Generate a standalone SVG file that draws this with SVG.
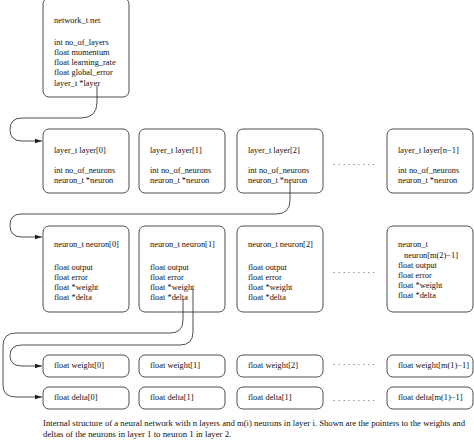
<svg xmlns="http://www.w3.org/2000/svg" width="474" height="443" viewBox="0 0 474 443">
<style>
.b{fill:#fff;stroke:#222;stroke-width:0.8}
.t{font-family:"Liberation Serif",serif;font-size:8.4px;fill:#111}
.cap{font-family:"Liberation Serif",serif;font-size:8.8px;fill:#111}
.c{fill:none;stroke:#222;stroke-width:0.8}
.d{font-family:"Liberation Serif",serif;font-size:9px;fill:#111;letter-spacing:2.7px}
</style>
<defs>
<marker id="ah" markerWidth="8" markerHeight="6" refX="7" refY="3" orient="auto" markerUnits="userSpaceOnUse">
<path d="M0,0.8 L7,3 L0,5.2 Z" fill="#222"/>
</marker>
</defs>
<g id="net">
<rect class="b" x="43" y="-2" width="86" height="99" rx="6"/>
<text class="t" x="54" y="23">network_t net</text>
<text class="t" x="54" y="45">int no_of_layers</text>
<text class="t" x="54" y="55">float momentum</text>
<text class="t" x="54" y="65">float learning_rate</text>
<text class="t" x="54" y="75">float global_error</text>
<text class="t" x="54" y="86">layer_t *layer</text>
</g>
<g id="layer0"><rect class="b" x="43" y="129" width="86" height="64" rx="6"/>
<text class="t" x="54" y="153">layer_t layer[0]</text><text class="t" x="54" y="173">int no_of_neurons</text><text class="t" x="54" y="183">neuron_t *neuron</text></g>
<g id="layer1"><rect class="b" x="139" y="129" width="86" height="64" rx="6"/>
<text class="t" x="150" y="153">layer_t layer[1]</text><text class="t" x="150" y="173">int no_of_neurons</text><text class="t" x="150" y="183">neuron_t *neuron</text></g>
<g id="layer2"><rect class="b" x="237" y="129" width="86" height="64" rx="6"/>
<text class="t" x="248" y="153">layer_t layer[2]</text><text class="t" x="248" y="173">int no_of_neurons</text><text class="t" x="248" y="183">neuron_t *neuron</text></g>
<g id="layern"><rect class="b" x="387" y="129" width="86" height="64" rx="6"/>
<text class="t" x="398" y="153">layer_t layer[n−1]</text><text class="t" x="398" y="173">int no_of_neurons</text><text class="t" x="398" y="183">neuron_t *neuron</text></g>
<g id="neuron0"><rect class="b" x="43" y="226" width="86" height="86" rx="6"/>
<text class="t" x="54" y="247">neuron_t neuron[0]</text><text class="t" x="54" y="270">float output</text><text class="t" x="54" y="280">float error</text><text class="t" x="54" y="290">float *weight</text><text class="t" x="54" y="300">float *delta</text></g>
<g id="neuron1"><rect class="b" x="139" y="226" width="86" height="86" rx="6"/>
<text class="t" x="150" y="247">neuron_t neuron[1]</text><text class="t" x="150" y="270">float output</text><text class="t" x="150" y="280">float error</text><text class="t" x="150" y="290">float *weight</text><text class="t" x="150" y="300">float *delta</text></g>
<g id="neuron2"><rect class="b" x="237" y="226" width="86" height="86" rx="6"/>
<text class="t" x="248" y="247">neuron_t neuron[2]</text><text class="t" x="248" y="270">float output</text><text class="t" x="248" y="280">float error</text><text class="t" x="248" y="290">float *weight</text><text class="t" x="248" y="300">float *delta</text></g>
<g id="neuronm"><rect class="b" x="387" y="226" width="86" height="86" rx="6"/>
<text class="t" x="398" y="247">neuron_t</text><text class="t" x="404" y="258">neuron[m(2)−1]</text><text class="t" x="398" y="268">float output</text><text class="t" x="398" y="278">float error</text><text class="t" x="398" y="288">float *weight</text><text class="t" x="398" y="298">float *delta</text></g>
<g id="weight0"><rect class="b" x="43" y="355" width="86" height="22" rx="6"/><text class="t" x="54" y="368">float weight[0]</text></g>
<g id="weight1"><rect class="b" x="139" y="355" width="86" height="22" rx="6"/><text class="t" x="150" y="368">float weight[1]</text></g>
<g id="weight2"><rect class="b" x="237" y="355" width="86" height="22" rx="6"/><text class="t" x="248" y="368">float weight[2]</text></g>
<g id="weightm"><rect class="b" x="387" y="355" width="86" height="22" rx="6"/><text class="t" x="398" y="368">float weight[m(1)−1]</text></g>
<g id="delta0"><rect class="b" x="43" y="387" width="86" height="22" rx="6"/><text class="t" x="54" y="400">float delta[0]</text></g>
<g id="delta1"><rect class="b" x="139" y="387" width="86" height="22" rx="6"/><text class="t" x="150" y="400">float delta[1]</text></g>
<g id="delta2"><rect class="b" x="237" y="387" width="86" height="22" rx="6"/><text class="t" x="248" y="400">float delta[1]</text></g>
<g id="deltam"><rect class="b" x="387" y="387" width="86" height="22" rx="6"/><text class="t" x="398" y="400">float delta[m(1)−1]</text></g>
<g id="dots">
<text class="d" x="333" y="165">.........</text>
<text class="d" x="333" y="273">.........</text>
<text class="d" x="333" y="365">.........</text>
<text class="d" x="333" y="401">.........</text>
</g>
<g id="connectors">
<path class="c" d="M97,86 L97,102 Q97,118 81,118 L22,118 Q10,118 10,129.5 Q10,141 22,141 L42,141" marker-end="url(#ah)"/>
<path class="c" d="M290,182 L290,200 Q290,214 276,214 L21,214 Q10,214 10,225.5 Q10,237 22,237 L42,237" marker-end="url(#ah)"/>
<path class="c" d="M193,289 L193,332 Q193,345 180,345 L22,345 Q10,345 10,355.5 Q10,366 22,366 L42,366" marker-end="url(#ah)"/>
<path class="c" d="M183,299 L183,320 Q183,333 170,333 L16,333 Q3,333 3,346 L3,385 Q3,397 16,397 L42,397" marker-end="url(#ah)"/>
</g>
<g id="caption">
<text class="cap" x="43" y="426" textLength="422" lengthAdjust="spacingAndGlyphs">Internal structure of a neural network with n layers and m(i) neurons in layer i. Shown are the pointers to the weights and</text>
<text class="cap" x="43" y="437">deltas of the neurons in layer 1 to neuron 1 in layer 2.</text>
</g>
</svg>
